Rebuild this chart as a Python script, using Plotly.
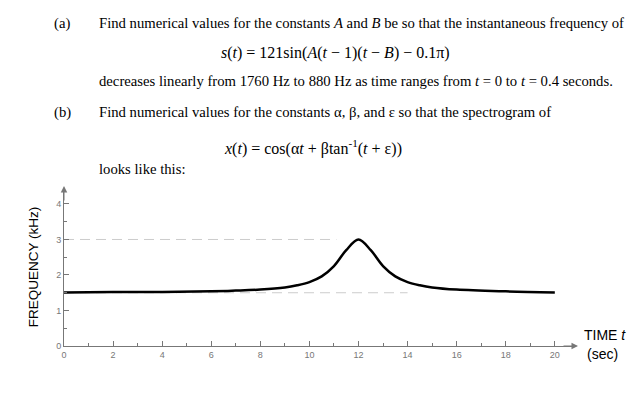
import plotly.graph_objects as go

# time (sec) and instantaneous frequency (kHz)
t = [0, 2, 4, 6, 7, 8, 9, 9.5, 10, 10.5, 11, 11.5, 12, 12.5, 13, 13.5, 14, 14.5, 15, 16, 18, 20]
freq = [1.51, 1.52, 1.52, 1.54, 1.56, 1.59, 1.65, 1.71, 1.80, 1.96, 2.25, 2.70, 3.0,
        2.70, 2.25, 1.96, 1.80, 1.71, 1.65, 1.59, 1.54, 1.51]
x_ticks = [0, 2, 4, 6, 8, 10, 12, 14, 16, 18, 20]
y_ticks = [0, 1, 2, 3, 4]

serif = "Liberation Serif"
sans = "Liberation Sans"
W, H, OFF = 640, 410, 8  # page body adds an 8px margin


def px(x):
    return (x - OFF) / W


def py(y):
    return 1 - (y - OFF) / H


fig = go.Figure()

# dashed guide lines at 3 kHz and 1.5 kHz
fig.add_trace(go.Scatter(x=[0, 11.1], y=[3, 3], mode="lines",
                         line=dict(color="#cccccc", width=1, dash="10px,6px"), hoverinfo="skip"))
fig.add_trace(go.Scatter(x=[0, 14], y=[1.5, 1.5], mode="lines",
                         line=dict(color="#cccccc", width=1, dash="10px,6px"), hoverinfo="skip"))
fig.add_trace(go.Scatter(x=t, y=freq, mode="lines", line=dict(color="black", width=2.5, shape="spline")))

fig.update_xaxes(range=[0, 20.7], domain=[px(64), px(572)], tickvals=x_ticks, automargin=False,
                 showline=True, linecolor="#777777", linewidth=1, ticks="inside", ticklen=5,
                 tickcolor="#777777", minor=dict(dtick=1, ticks="inside", ticklen=3, tickcolor="#777777"),
                 showgrid=False, zeroline=False, tickfont=dict(family=sans, size=9, color="#777777"))
fig.update_yaxes(range=[0, 4.45], domain=[py(346), py(188)], tickvals=y_ticks, automargin=False,
                 showline=True, linecolor="#777777", linewidth=1, ticks="inside", ticklen=5,
                 tickcolor="#777777", minor=dict(dtick=0.5, ticks="inside", ticklen=3, tickcolor="#777777"),
                 showgrid=False, zeroline=False, tickfont=dict(family=sans, size=9, color="#777777"),
                 title=dict(text="FREQUENCY (kHz)", font=dict(family=sans, size=13.5, color="black"),
                            standoff=14))

txt = dict(family=serif, size=14.7, color="black")
formula = dict(family=serif, size=16, color="black")
notes = [
    (52, 23, "(a)", "left", txt),
    (97, 23, "Find numerical values for the constants <i>A</i> and <i>B</i> be so that the instantaneous frequency of", "left", txt),
    (335, 53, "<i>s</i>(<i>t</i>) = 121sin(<i>A</i>(<i>t</i> − 1)(<i>t</i> − <i>B</i>) − 0.1π)", "center", formula),
    (97, 81, "decreases linearly from 1760 Hz to 880 Hz as time ranges from <i>t</i> = 0 to <i>t</i> = 0.4 seconds.", "left", txt),
    (52, 112, "(b)", "left", txt),
    (97, 112, "Find numerical values for the constants α, β, and ε so that the spectrogram of", "left", txt),
    (313, 147, "<i>x</i>(<i>t</i>) = cos(α<i>t</i> + βtan<sup>-1</sup>(<i>t</i> + ε))", "center", formula),
    (97, 169, "looks like this:", "left", txt),
]
for x, y, s, a, f in notes:
    fig.add_annotation(x=px(x), y=py(y), xref="paper", yref="paper", text=s,
                       showarrow=False, xanchor=a, yanchor="middle", font=f)

# axis arrows
fig.add_annotation(x=px(578), y=py(346), ax=-16, ay=0, xref="paper", yref="paper",
                   text="", showarrow=True, arrowhead=2, arrowsize=1.3,
                   arrowwidth=1, arrowcolor="#777777")
fig.add_annotation(x=px(64), y=py(186), ax=0, ay=16, xref="paper", yref="paper",
                   text="", showarrow=True, arrowhead=2, arrowsize=1.3,
                   arrowwidth=1, arrowcolor="#777777")
fig.add_annotation(x=px(582), y=py(345), xref="paper", yref="paper", text="TIME <i>t</i>",
                   showarrow=False, xanchor="left", font=dict(family=sans, size=14, color="black"))
fig.add_annotation(x=px(585), y=py(364), xref="paper", yref="paper", text="(sec)",
                   showarrow=False, xanchor="left", font=dict(family=sans, size=14, color="black"))

fig.update_layout(width=W, height=H, margin=dict(l=0, r=0, t=0, b=0), showlegend=False,
                  plot_bgcolor="white", paper_bgcolor="white")

fig.write_html("out.html")
